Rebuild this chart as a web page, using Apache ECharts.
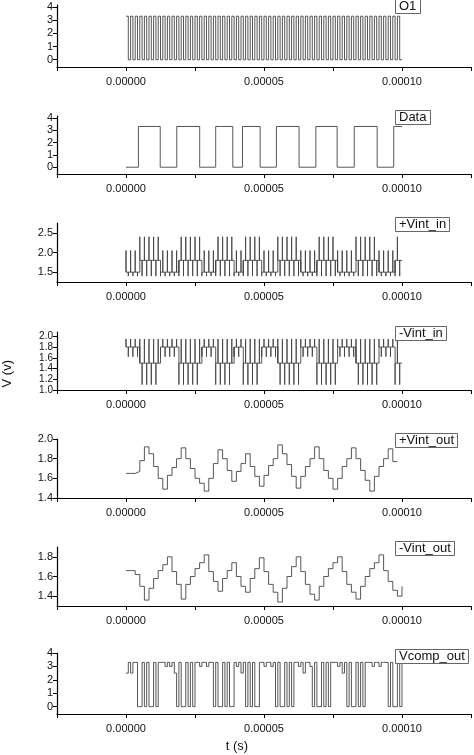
<!DOCTYPE html>
<html><head><meta charset="utf-8">
<script src="https://cdn.jsdelivr.net/npm/echarts@6/dist/echarts.min.js"></script>
<style>html,body{margin:0;padding:0;background:#fff}#c{width:474px;height:755px}</style>
</head><body><div id="c"></div>
<script>
// ---------- data (times in microseconds) ----------
const panelNames = ['O1','Data','+Vint_in','-Vint_in','+Vint_out','-Vint_out','Vcomp_out'];
const xTickLabels = ['0.00000','0.00005','0.00010'];
const slotUs = 100/120;                 // half clock period
const o1Levels = '10'.repeat(60);       // clock: 60 pulses, high=3.3
const highV = 3.3;
// Data: edge times (µs) and level after edge
const dataEdges = [0,4.5,12.4,18.4,26.7,32.5,38.7,42.2,48.6,54.5,62.7,68.8,76.5,82.7,91,97,100];
const dataLevels = [0,1,0,1,0,1,0,1,0,1,0,1,0,1,0,1,1];
// Vint_in levels
const pInBase = [1.5,1.8], pInSpikeUp = [2.05,2.4], pInSpikeDown = 1.4;
const nInBase = [1.8,1.5], nInSpikeUp = 1.95, nInSpikeDown = [1.62,1.1];
// Vint_out staircases, one value per clock period (100/60 µs)
const pOut = [1.65,1.65,1.67,1.78,1.92,1.85,1.72,1.6,1.49,1.63,1.71,1.8,1.91,1.8,1.7,1.6,1.55,1.47,1.6,1.75,1.89,1.8,1.68,1.57,1.67,1.75,1.85,1.72,1.62,1.52,1.63,1.73,1.8,1.94,1.85,1.74,1.62,1.5,1.62,1.72,1.8,1.92,1.8,1.68,1.6,1.49,1.6,1.72,1.8,1.91,1.8,1.68,1.58,1.47,1.62,1.72,1.8,1.9,1.77,1.77];
const nOut = [1.66,1.66,1.62,1.5,1.36,1.48,1.58,1.66,1.72,1.8,1.65,1.52,1.37,1.52,1.6,1.68,1.74,1.82,1.65,1.55,1.45,1.58,1.66,1.74,1.6,1.5,1.44,1.58,1.68,1.79,1.65,1.52,1.44,1.34,1.48,1.6,1.7,1.8,1.65,1.52,1.42,1.36,1.5,1.6,1.68,1.74,1.8,1.65,1.52,1.44,1.37,1.5,1.6,1.68,1.74,1.82,1.66,1.55,1.46,1.4,1.5];
// Vcomp_out per half clock slot: H=3.3, 3=3.0, 2=2.5, L=0
const vcompSlots = '2H2HH'+'LLHLHLLHLH'+'HH3H3H2'+'LHLLHLHLH'+'H3HH3HH'+'LHLLHLHLLH'+'3H2H'+'LHLHLLH'+'H3HH3H'+'LHLLHLHLH'+'H3H2HH3'+'LHLLHLHLH'+'HH3H2H'+'LHLLHLHLH'+'HH3HH3HHH'+'LHLLHL';
const vcompMap = {H:3.3,'3':3.0,'2':2.5,L:0};

// ---------- build series ----------
const s = us => us*1e-6;
function dataAt(us){let l=0;for(let i=0;i<dataEdges.length;i++){if(dataEdges[i]<=us)l=dataLevels[i];}return l;}
const o1 = []; for(let k=0;k<120;k++){o1.push([s(k*slotUs),o1Levels[k]==='1'?highV:0]);} o1.push([s(100),0]);
const dat = dataEdges.map((t,i)=>[s(t),dataLevels[i]*highV]);
const pIn=[], nIn=[];
for(let k=0;k<120;k++){
  const t=k*slotUs, d=dataAt(t+0.01);
  const up = k%2===0;
  pIn.push([s(t),pInBase[d]]); pIn.push([s(t),up?pInSpikeUp[d]:pInSpikeDown]); pIn.push([s(t),pInBase[d]]);
  nIn.push([s(t),nInBase[d]]); nIn.push([s(t),up?nInSpikeUp:nInSpikeDown[d]]); nIn.push([s(t),nInBase[d]]);
  nIn.push([s(t+slotUs),nInBase[d]]); pIn.push([s(t+slotUs),pInBase[d]]);
}
const pO = pOut.map((v,i)=>[s(i*100/60),v]);
const nO = nOut.map((v,i)=>[s(i*100/60),v]);
const vc = []; for(let k=0;k<120;k++){vc.push([s(k*slotUs),vcompMap[vcompSlots[k]]]);} vc.push([s(100),3.3]);

const seriesData=[o1,dat,pIn,nIn,pO,nO,vc];
const stepMode=[ 'end','end',false,false,'end','end','end'];
// ---------- layout ----------
const tops=[5,116,223,332,439,547,653], bottoms=[67,174,282,390,498,606,714];
const yRanges=[[-0.55,4.15],[-0.55,4.15],[1.25,2.75],[1.0,2.08],[1.4,2.0],[1.3,1.9],[-0.55,4.0]];
const yTicks=[[0,1,2,3,4],[0,1,2,3,4],[1.5,2.0,2.5],[1.0,1.2,1.4,1.6,1.8,2.0],[1.4,1.6,1.8,2.0],[1.4,1.6,1.8],[0,1,2,3,4]];
const yFmt=[0,0,1,1,1,1,0];
const font='Liberation Sans, Arial, sans-serif';
const grid=[],xAxis=[],yAxis=[],series=[],title=[];
for(let i=0;i<7;i++){
  grid.push({left:57,right:3,top:tops[i],height:bottoms[i]-tops[i]});
  xAxis.push({gridIndex:i,type:'value',min:-0.000025,max:0.000125,interval:0.000025,
    axisLine:{onZero:false,lineStyle:{color:'#000',width:1.2}},axisTick:{length:4,lineStyle:{color:'#000'}},
    splitLine:{show:false},
    axisLabel:{color:'#111',fontFamily:font,fontSize:11,margin:9,showMinLabel:true,showMaxLabel:true,
      formatter:v=>{const r=v/0.00005;const n=Math.round(r);return (Math.abs(r-n)<1e-6&&n>=0&&n<=2)?xTickLabels[n]:'';}}});
  yAxis.push({gridIndex:i,type:'value',min:yRanges[i][0],max:yRanges[i][1],
    axisLine:{show:true,onZero:false,lineStyle:{color:'#000',width:1.2}},
    axisTick:{show:true,length:4,customValues:yTicks[i],lineStyle:{color:'#000'}},
    axisLabel:{customValues:yTicks[i],hideOverlap:false,color:'#111',fontFamily:font,fontSize:i===3?10:11,margin:4,formatter:v=>v.toFixed(yFmt[i])},
    splitLine:{show:false}});
  series.push({type:'line',xAxisIndex:i,yAxisIndex:i,data:seriesData[i],step:stepMode[i],showSymbol:false,
    lineStyle:{color:'#444',width:0.9},animation:false});
  title.push({text:panelNames[i],left:395,top:tops[i]-6+(i===6?2:0),padding:[1,4,1,4],borderColor:'#666',borderWidth:1,
    backgroundColor:'#fff',textStyle:{fontFamily:font,fontSize:13,fontWeight:'normal',color:'#111'}});
}
title.push({text:'t (s)',left:'center',top:740,padding:0,textStyle:{fontFamily:font,fontSize:13,fontWeight:'normal',color:'#111'}});
const chart=echarts.init(document.getElementById('c'),null,{renderer:'canvas'});
chart.setOption({animation:false,title,grid,xAxis,yAxis,series,
  graphic:[{type:'text',left:1,top:360,rotation:Math.PI/2,style:{text:'V (v)',font:'13px '+font,fill:'#111'}}]});
</script></body></html>
